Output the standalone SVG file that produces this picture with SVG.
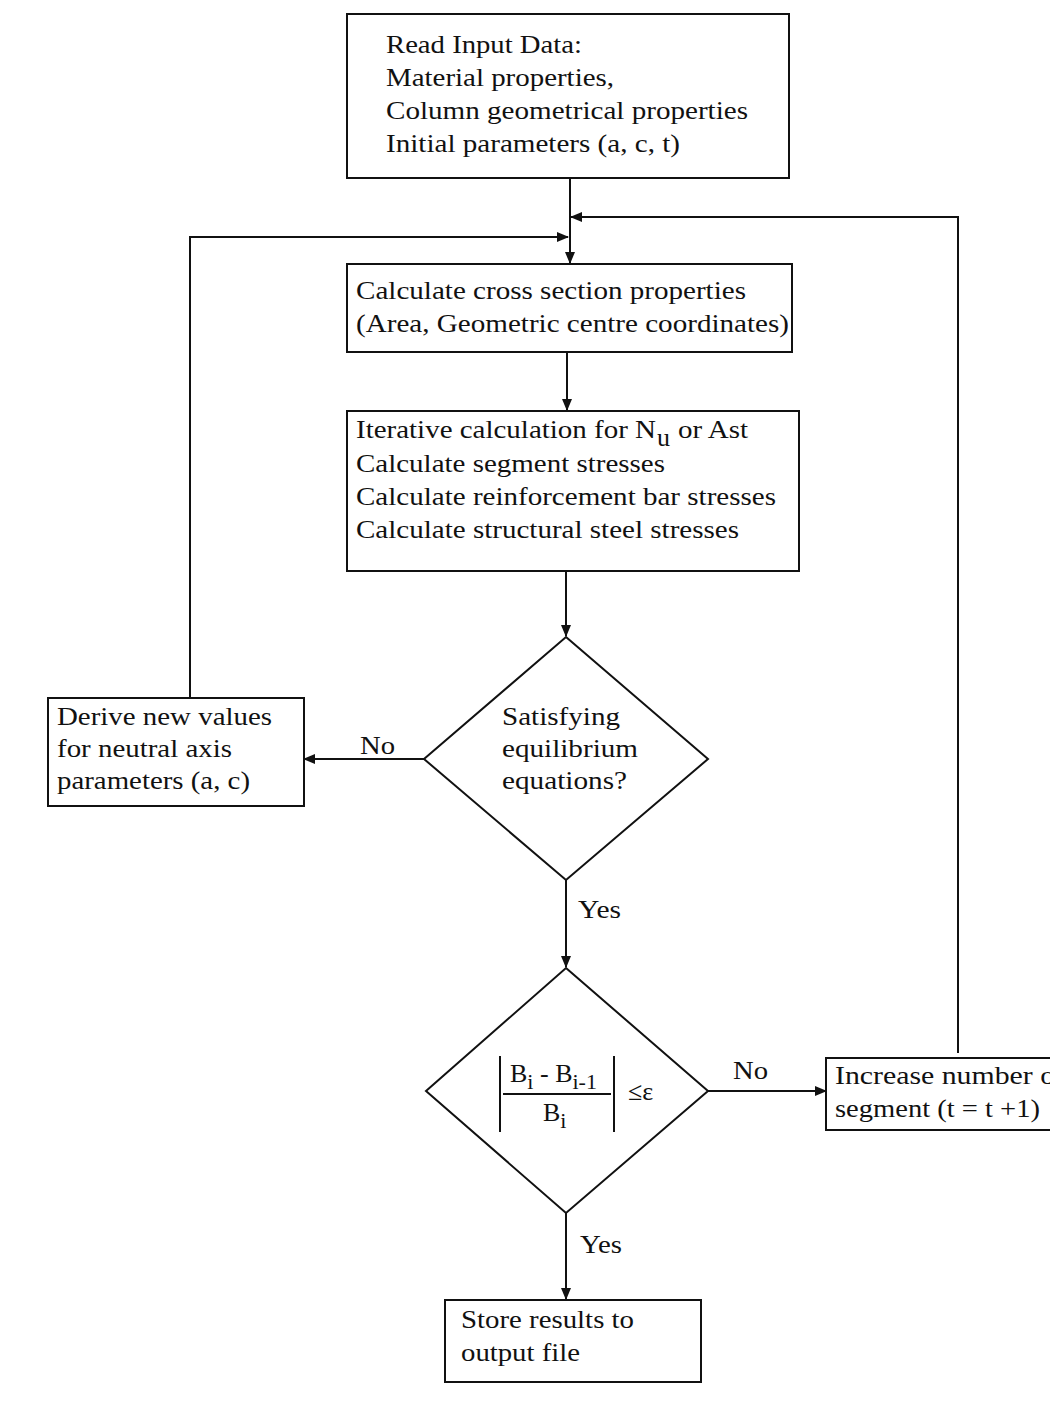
<svg xmlns="http://www.w3.org/2000/svg" width="1050" height="1418" viewBox="0 0 1050 1418">
<style>
text{font-family:"Liberation Serif","Times New Roman",serif;font-size:26px;fill:#111}
.b{fill:#fff;stroke:#111;stroke-width:2}
.c{fill:none;stroke:#111;stroke-width:2}
</style>
<defs><marker id="a" markerWidth="12" markerHeight="10" refX="11" refY="5" orient="auto" markerUnits="userSpaceOnUse"><path d="M0,0L12,5L0,10z" fill="#111"/></marker></defs>
<rect width="1050" height="1418" fill="#fff"/>
<g id="connectors">
<path class="c" d="M570,178V263" marker-end="url(#a)"/>
<path class="c" d="M958,1053V217H571" marker-end="url(#a)"/>
<path class="c" d="M190,698V237H568" marker-end="url(#a)"/>
<path class="c" d="M567,352V410" marker-end="url(#a)"/>
<path class="c" d="M566,571V636" marker-end="url(#a)"/>
<path class="c" d="M424,759H304" marker-end="url(#a)"/>
<path class="c" d="M566,880V967" marker-end="url(#a)"/>
<path class="c" d="M708,1091H826" marker-end="url(#a)"/>
<path class="c" d="M566,1213V1299" marker-end="url(#a)"/>
<text x="360" y="754" textLength="35" lengthAdjust="spacingAndGlyphs">No</text>
<text x="578" y="918" textLength="43" lengthAdjust="spacingAndGlyphs">Yes</text>
<text x="733" y="1079" textLength="35" lengthAdjust="spacingAndGlyphs">No</text>
<text x="580" y="1253" textLength="42" lengthAdjust="spacingAndGlyphs">Yes</text>
</g>
<g id="n1"><rect class="b" x="347" y="14" width="442" height="164"/>
<text x="386" y="53" textLength="196" lengthAdjust="spacingAndGlyphs">Read Input Data:</text>
<text x="386" y="86" textLength="228" lengthAdjust="spacingAndGlyphs">Material properties,</text>
<text x="386" y="119" textLength="362" lengthAdjust="spacingAndGlyphs">Column geometrical properties</text>
<text x="386" y="152" textLength="294" lengthAdjust="spacingAndGlyphs">Initial parameters (a, c, t)</text></g>
<g id="n2"><rect class="b" x="347" y="264" width="445" height="88"/>
<text x="356" y="299" textLength="390" lengthAdjust="spacingAndGlyphs">Calculate cross section properties</text>
<text x="356" y="332" textLength="433" lengthAdjust="spacingAndGlyphs">(Area, Geometric centre coordinates)</text></g>
<g id="n3"><rect class="b" x="347" y="411" width="452" height="160"/>
<text x="356" y="438" textLength="300" lengthAdjust="spacingAndGlyphs">Iterative calculation for N</text>
<text x="657" y="446" font-size="21">u</text>
<text x="678" y="438" textLength="70" lengthAdjust="spacingAndGlyphs">or Ast</text>
<text x="356" y="472" textLength="309" lengthAdjust="spacingAndGlyphs">Calculate segment stresses</text>
<text x="356" y="505" textLength="420" lengthAdjust="spacingAndGlyphs">Calculate reinforcement bar stresses</text>
<text x="356" y="538" textLength="383" lengthAdjust="spacingAndGlyphs">Calculate structural steel stresses</text></g>
<g id="n4"><path class="b" d="M566,637L708,759L566,880L424,759Z"/>
<text x="502" y="725" textLength="118" lengthAdjust="spacingAndGlyphs">Satisfying</text>
<text x="502" y="757" textLength="136" lengthAdjust="spacingAndGlyphs">equilibrium</text>
<text x="502" y="789" textLength="125" lengthAdjust="spacingAndGlyphs">equations?</text></g>
<g id="n5"><rect class="b" x="48" y="698" width="256" height="108"/>
<text x="57" y="725" textLength="215" lengthAdjust="spacingAndGlyphs">Derive new values</text>
<text x="57" y="757" textLength="175" lengthAdjust="spacingAndGlyphs">for neutral axis</text>
<text x="57" y="789" textLength="193" lengthAdjust="spacingAndGlyphs">parameters (a, c)</text></g>
<g id="n6"><path class="b" d="M566,968L708,1091L566,1213L426,1091Z"/>
<path class="c" d="M500,1056V1132M614,1056V1132M503,1094H611"/>
<text x="510" y="1082" font-size="29">B<tspan dy="7" font-size="22">i</tspan><tspan dy="-7"> - B</tspan><tspan dy="7" font-size="22">i-1</tspan></text>
<text x="543" y="1121" font-size="29">B<tspan dy="7" font-size="22">i</tspan></text>
<text x="628" y="1100" font-size="29">≤ε</text></g>
<g id="n7"><rect class="b" x="826" y="1058" width="230" height="72"/>
<text x="835" y="1084" textLength="230" lengthAdjust="spacingAndGlyphs">Increase number of</text>
<text x="835" y="1117" textLength="205" lengthAdjust="spacingAndGlyphs">segment (t = t +1)</text></g>
<g id="n8"><rect class="b" x="445" y="1300" width="256" height="82"/>
<text x="461" y="1328" textLength="173" lengthAdjust="spacingAndGlyphs">Store results to</text>
<text x="461" y="1361" textLength="119" lengthAdjust="spacingAndGlyphs">output file</text></g>
</svg>
